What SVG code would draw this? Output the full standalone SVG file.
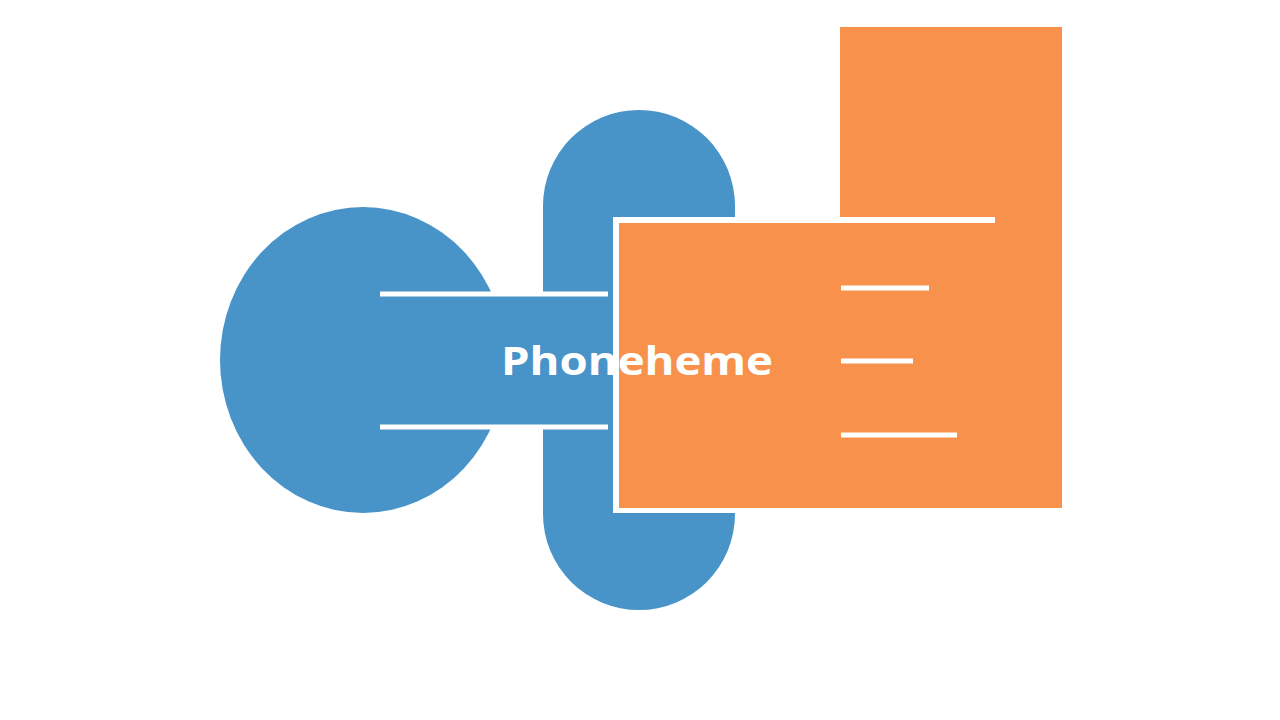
<svg xmlns="http://www.w3.org/2000/svg" width="1280" height="720" viewBox="0 0 1280 720">
  <style>
    .blue { fill: #4894C9; }
    .orange { fill: #F8914B; }
    .wline { stroke: #FFFFFF; stroke-width: 5; stroke-linecap: butt; fill: none; }
    .label { font-family: "Open Sans", "Liberation Sans", sans-serif; font-weight: 700; font-size: 40px; fill: #FFFFFF; }
  </style>
  <rect width="1280" height="720" fill="#FFFFFF"/>
  <g id="circle-node">
    <ellipse class="blue" cx="363" cy="360" rx="143" ry="153"/>
  </g>
  <g id="pill-node">
    <rect class="blue" x="543" y="110" width="192" height="500" rx="96" ry="96"/>
  </g>
  <g id="bar-node">
    <rect class="blue" x="380" y="296" width="236" height="130"/>
  </g>
  <g id="tall-node">
    <rect class="orange" x="840" y="27" width="222" height="481"/>
  </g>
  <g id="box-node">
    <rect fill="#FFFFFF" x="613" y="217" width="382" height="296"/>
    <rect class="orange" x="619" y="223" width="443" height="285"/>
  </g>
  <g id="connectors">
    <line class="wline" x1="380" y1="294" x2="608" y2="294"/>
    <line class="wline" x1="380" y1="427" x2="608" y2="427"/>
    <line class="wline" x1="841" y1="288" x2="929" y2="288"/>
    <line class="wline" x1="841" y1="361" x2="913" y2="361"/>
    <line class="wline" x1="841" y1="435" x2="957" y2="435"/>
  </g>
  <g id="label">
    <text class="label" x="501" y="375" textLength="272" lengthAdjust="spacingAndGlyphs">Phoneheme</text>
  </g>
</svg>
